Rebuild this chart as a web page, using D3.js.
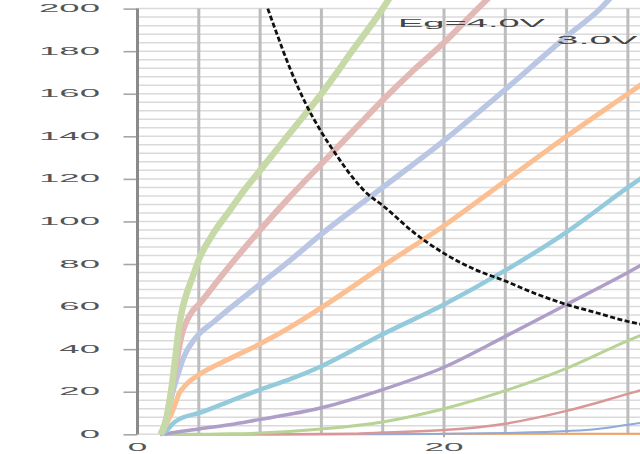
<!DOCTYPE html>
<html><head><meta charset="utf-8">
<script src="https://cdn.jsdelivr.net/npm/d3@7"></script>
<style>body{margin:0;background:#fff}svg{display:block}</style>
</head><body>
<svg id="c" width="640" height="454"></svg>
<script>
// ---- data ----
const yTicks = [0, 20, 40, 60, 80, 100, 120, 140, 160, 180, 200];
const xTickLabels = [0, 20];
const gridX = [4, 8, 12, 16, 20, 24, 28, 32];
const curveNames = ["Eg=4.0V", "3.5V", "3.0V", "2.5V", "2.0V", "1.5V", "1.0V", "0.5V", "0V", "-0.5V"];
const curveColors = ["#c6d9a6", "#e3b9b6", "#b9c6e4", "#fbbf92", "#93cbdc", "#ae9ec8", "#b8d395", "#d99896", "#8fabd9", "#f6a15c"];
const curveWidths = [6.5, 6, 5.5, 5, 4.5, 3.5, 3, 2.5, 2, 2];
const curve1 = [[1.5,0],[1.7,3],[1.9,8],[2.1,16],[2.3,26],[2.5,38],[2.7,50],[2.9,58],[3.2,66],[3.6,74],[4,82],[5,95],[6,105],[7,115],[8,124],[10,142],[12,160],[14,180],[16,200],[16.8,209]];
const curve2 = [[1.5,0],[1.7,3],[1.9,8],[2.1,16],[2.3,24],[2.5,32],[2.7,40],[2.9,47],[3.2,53],[3.6,58],[4,61],[5,70],[6,79],[8,96],[10,112],[12,127],[14,142],[16,157],[18,171],[20,184],[22.2,200],[23.2,207]];
const curve3 = [[1.5,0],[1.7,3],[1.9,8],[2.1,14],[2.3,20],[2.5,25],[2.7,29.5],[2.9,34],[3.2,39],[3.6,43.5],[4,47],[5,53],[6,59],[8,70.5],[10,82],[12,94],[16,116],[20,138],[24,162],[28,187],[30.2,200],[31,206]];
const curve4 = [[1.5,0],[1.7,2],[1.9,5],[2.1,8],[2.3,11],[2.5,15],[2.7,19],[3,22],[3.5,25.5],[4,28],[6,35.5],[8,42.5],[10,50.5],[12,59.5],[16,79],[20,98],[24,119],[28,140],[32,160],[34,170]];
const curve5 = [[1.5,0],[1.7,0.5],[2,2.5],[2.3,5],[2.7,7],[3,8],[4,10],[6,15.5],[8,21],[10,26],[12,32],[16,47],[20,61],[24,77],[28,95],[32,116],[34,126]];
const curve6 = [[1.5,0],[1.8,0.2],[2.5,1],[4,2.5],[6,4.5],[8,7],[10,9.5],[12,12.5],[16,21],[20,31.5],[24,46],[28,61],[32,76],[34,84]];
const curve7 = [[1.5,0],[4,0.05],[6,0.2],[8,0.6],[12,2.5],[16,5.8],[20,12],[24,20.5],[28,31],[32,44],[34,50]];
const curve8 = [[1.5,0],[10,0.05],[14,0.3],[16,0.8],[20,2],[24,5],[28,11],[32,19],[34,23]];
const curve9 = [[1.5,0],[16,0.05],[20,0.2],[24,0.6],[28,1.5],[30,2.5],[32,4.5],[34,6.5]];
const curve10 = [[1.5,0],[34,0.3]];
const curves = [curve1, curve2, curve3, curve4, curve5, curve6, curve7, curve8, curve9, curve10];
const dissipation = [[8.5,200],[9,190],[10,171],[11,155],[12,142],[13,131],[14,121],[15,113],[16,107.5],[18,95],[20,85],[22,77.5],[24,72],[26,66],[28,61],[30,57],[32,53],[33,51.5]];
const annotations = [{text:"Eg=4.0V", x:17, y:193.2, w:147}, {text:"3.0V", x:27.35, y:185.1, w:81}];

// ---- drawing ----
const svg = d3.select("#c");
const x = d3.scaleLinear().domain([0, 20]).range([137.5, 444]);
const y = d3.scaleLinear().domain([0, 200]).range([434.3, 8.6]);
const right = 640;

svg.append("defs").append("clipPath").attr("id","clip")
  .append("rect").attr("x", x(0)).attr("y", 0).attr("width", right - x(0)).attr("height", 437);

// horizontal grid every 4
const hg = d3.range(0, 201, 4);
svg.append("g").selectAll("line").data(hg).join("line")
  .attr("x1", x(0)).attr("x2", right)
  .attr("y1", d => y(d)).attr("y2", d => y(d))
  .attr("stroke", "#dadada").attr("stroke-width", 1.5);

// vertical grid
svg.append("g").selectAll("line").data(gridX).join("line")
  .attr("x1", d => x(d)).attr("x2", d => x(d))
  .attr("y1", y(200)).attr("y2", y(0))
  .attr("stroke", "#bdbdbd").attr("stroke-width", 3);

// y axis via d3.axisLeft
const yAxis = d3.axisLeft(y).tickValues(yTicks).tickSize(14).tickFormat("");
const ga = svg.append("g").attr("transform", `translate(${x(0)},0)`).call(yAxis);
ga.select(".domain").remove();
ga.selectAll(".tick line").attr("stroke", "#a6a6a6").attr("stroke-width", 1.6);
svg.append("line").attr("x1", x(0)).attr("x2", x(0)).attr("y1", y(200)).attr("y2", y(0))
  .attr("stroke", "#8a8a8a").attr("stroke-width", 3);

// y labels (stretched)
svg.append("g").selectAll("text").data(yTicks).join("text")
  .attr("x", d => 100 - String(d).length * 20.3)
  .attr("y", d => y(d) + 3.6)
  .attr("textLength", d => String(d).length * 20.3)
  .attr("lengthAdjust", "spacingAndGlyphs")
  .attr("font-family", "Liberation Sans, Arial, sans-serif")
  .attr("font-size", 10).attr("fill", "#555")
  .text(d => d);

// x labels
svg.append("g").selectAll("text").data(xTickLabels).join("text")
  .attr("x", d => x(d) - String(d).length * 19.5 / 2)
  .attr("y", 450.5)
  .attr("textLength", d => String(d).length * 19.5)
  .attr("lengthAdjust", "spacingAndGlyphs")
  .attr("font-family", "Liberation Sans, Arial, sans-serif")
  .attr("font-size", 10).attr("fill", "#555")
  .text(d => d);
svg.append("line").attr("x1", x(20)).attr("x2", x(20)).attr("y1", y(0)).attr("y2", y(0) + 3)
  .attr("stroke", "#8a8a8a").attr("stroke-width", 1.5);

// curves
const line = d3.line().x(d => x(d[0])).y(d => y(d[1])).curve(d3.curveMonotoneX);
const cg = svg.append("g").attr("clip-path", "url(#clip)");
const order = d3.range(curves.length).reverse();
cg.selectAll("path.c").data(order).join("path")
  .attr("class", "c")
  .attr("d", i => line(curves[i]))
  .attr("fill", "none")
  .attr("stroke", i => curveColors[i])
  .attr("stroke-width", i => curveWidths[i])
  .attr("stroke-linejoin", "round");

// dissipation curve
cg.append("path").attr("d", line(dissipation))
  .attr("fill", "none").attr("stroke", "#111").attr("stroke-width", 2.8)
  .attr("stroke-dasharray", "5,2.5");

// annotations
svg.append("g").selectAll("text").data(annotations).join("text")
  .attr("x", d => x(d.x)).attr("y", d => y(d.y) + 3.8)
  .attr("textLength", d => d.w)
  .attr("lengthAdjust", "spacingAndGlyphs")
  .attr("font-family", "Liberation Sans, Arial, sans-serif")
  .attr("font-size", 10.5).attr("fill", "#444")
  .text(d => d.text);
</script>
</body></html>
